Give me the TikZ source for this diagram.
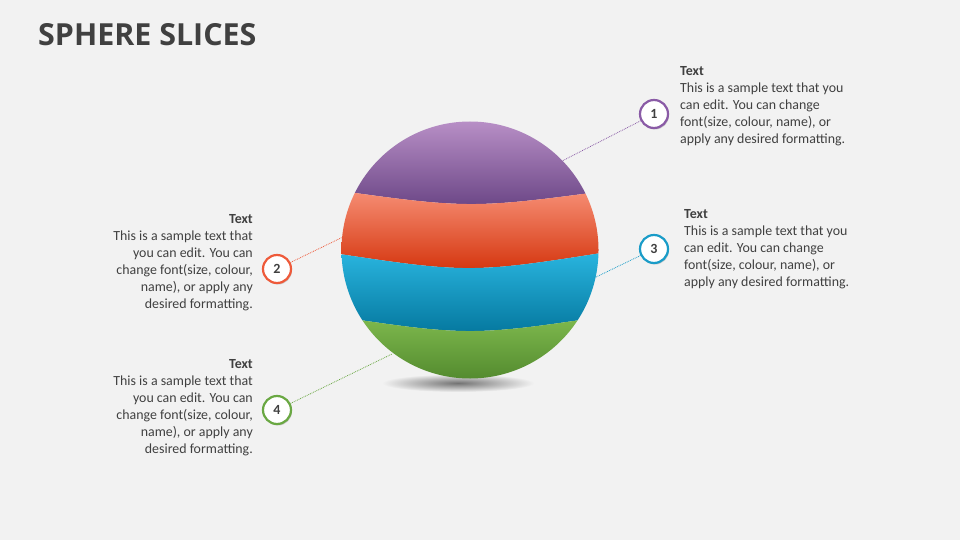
\documentclass[tikz,border=0pt]{standalone}
\usepackage{fontspec}
\setmainfont{Carlito}
\newfontfamily\titlefont{Open Sans}
\usetikzlibrary{shadows}
\definecolor{bg}{HTML}{F2F2F2}
\definecolor{txt}{HTML}{404040}
\definecolor{cpur}{HTML}{8A5BA6}
\definecolor{cora}{HTML}{EE5A3A}
\definecolor{cblu}{HTML}{1A9CC8}
\definecolor{cgrn}{HTML}{6AA843}
\definecolor{pt}{HTML}{B88FC6}\definecolor{pb}{HTML}{6C4787}
\definecolor{ot}{HTML}{F8937A}\definecolor{ob}{HTML}{D5360F}
\definecolor{bt}{HTML}{2BB8E2}\definecolor{bb}{HTML}{05789F}
\definecolor{gt}{HTML}{82BD50}\definecolor{gb}{HTML}{538A2E}
\begin{document}
\begin{tikzpicture}[x=1pt,y=-1pt,
  numc/.style={circle,draw=#1,line width=2.2pt,fill=white,minimum size=28pt,inner sep=0pt,
     font=\bfseries\fontsize{14}{14}\selectfont,text=txt,drop shadow={opacity=0.35,shadow xshift=1pt,shadow yshift=-1.5pt}},
  conn/.style={draw=#1,densely dotted,line width=0.8pt},
  blk/.style={inner sep=0pt,text=txt,font=\fontsize{13.9}{17}\selectfont,align=#1}]
\fill[bg] (0,0) rectangle (960,540);
\node[anchor=base west,inner sep=0pt,text=txt,font=\titlefont\bfseries\fontsize{30.4}{30}\selectfont] (title) at (38,46) {SPHERE SLICES};
% shadow
\shade[inner color=black!55,outer color=bg] (458,383) ellipse (76 and 9);
% sphere
\coordinate (c) at (470,250);
\begin{scope}
\clip (c) circle (128.5);
\begin{scope}
 \clip (320,100) -- (620,100) -- (620,189) .. controls (470,209.2) .. (320,188) -- cycle;
 \shade[top color=pt,bottom color=pb] (330,121) rectangle (610,206);
\end{scope}
\begin{scope}
 \clip (620,189) .. controls (470,209.2) .. (320,188) -- (320,251) .. controls (470,273.9) .. (620,250) -- cycle;
 \shade[top color=ot,bottom color=ob] (330,186) rectangle (610,270);
\end{scope}
\begin{scope}
 \clip (320,251) .. controls (470,273.9) .. (620,250) -- (620,314) .. controls (470,336.7) .. (320,314) -- cycle;
 \shade[top color=bt,bottom color=bb] (330,248) rectangle (610,333);
\end{scope}
\begin{scope}
 \clip (620,314) .. controls (470,336.7) .. (320,314) -- (320,400) -- (620,400) -- cycle;
 \shade[top color=gt,bottom color=gb] (330,312) rectangle (610,380);
\end{scope}
\end{scope}
\coordinate (s1) at (562,161);
\coordinate (s2) at (343,237);
\coordinate (s3) at (594,278);
\coordinate (s4) at (392,354);
% circles
\node[numc=cpur] (n1) at (654,114) {1};
\node[numc=cora] (n2) at (277,269) {2};
\node[numc=cblu] (n3) at (654,249) {3};
\node[numc=cgrn] (n4) at (277,410) {4};
\draw[conn=cpur] (n1) -- (s1);
\draw[conn=cora] (n2) -- (s2);
\draw[conn=cblu] (n3) -- (s3);
\draw[conn=cgrn] (n4) -- (s4);
% texts
\node[blk=left,anchor=north west] (t1) at (680,66) {\textbf{Text}\\This is a sample text that you\\can edit. You can change\\font(size, colour, name), or\\apply any desired formatting.};
\node[blk=left,anchor=north west] (t3) at (684,209) {\textbf{Text}\\This is a sample text that you\\can edit. You can change\\font(size, colour, name), or\\apply any desired formatting.};
\node[blk=right,anchor=north east] (t2) at (253,214) {\textbf{Text}\\This is a sample text that\\you can edit. You can\\change font(size, colour,\\name), or apply any\\desired formatting.};
\node[blk=right,anchor=north east] (t4) at (253,359) {\textbf{Text}\\This is a sample text that\\you can edit. You can\\change font(size, colour,\\name), or apply any\\desired formatting.};
\end{tikzpicture}
\end{document}
